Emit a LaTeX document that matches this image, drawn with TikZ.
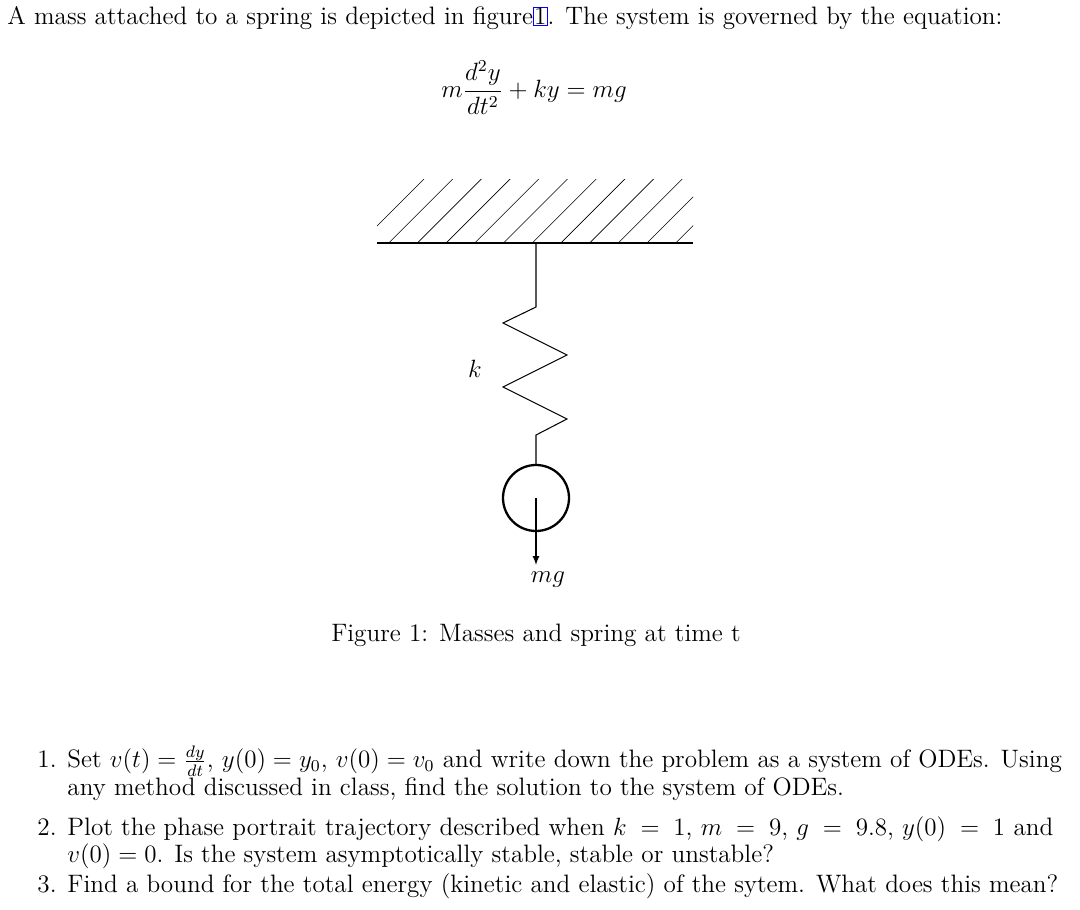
\documentclass[tikz,border=0pt]{standalone}
\usepackage{amsmath}
\begin{document}
\begin{tikzpicture}[x=0.48pt,y=-0.48pt,
  txt/.style={anchor=base west,inner sep=0pt,font=\fontsize{12.1}{14}\selectfont},
  lbl/.style={inner sep=0pt,font=\fontsize{12.1}{14}\selectfont}]
\useasboundingbox (0,0) rectangle (1080,910);
\node[txt] (l1) at (7,25) {A mass attached to a spring is depicted in figure\tikz[baseline=(b.base)]\node[draw=blue,inner sep=0.3pt,line width=0.4pt] (b) {1};. The system is governed by the equation:};
\node[lbl] (eq) at (534,88) {$\displaystyle m\frac{d^2y}{dt^2}+ky=mg$};
% ceiling
\begin{scope}
\clip (377,180) rectangle (693,243);
\foreach \i in {0,...,14} {
  \draw[line width=0.3pt] ({360+28.7*\i},243) -- ++(80,-80);
}
\end{scope}
\coordinate (cl) at (377,243);
\coordinate (cr) at (693,243);
\draw[line width=1.3pt] (cl) -- (cr);
\coordinate (s0) at (536,243);
\coordinate (s1) at (536,307);
\coordinate (s6) at (536,435);
\node[circle,draw,line width=1.1pt,minimum size=66*0.48pt,inner sep=0pt] (m) at (536,498) {};
\draw[line width=0.5pt] (s0) -- (s1) -- (503,323) -- (567,355) -- (503,387) -- (567,419) -- (s6) -- (m.north);
\coordinate (a) at (536,565);
\draw[-latex,line width=0.5pt] (m.center) -- (a);
\node[lbl] (k) at (475,369) {$k$};
\node[lbl] (mg) at (548,580) {$mg$};
\node[txt,anchor=base] (cap) at (536,642) {Figure 1: Masses and spring at time t};
\node[txt] (n1) at (37,768) {1.};
\node[txt] (t1a) at (67,768) {Set $v(t)=\frac{dy}{dt}$, $y(0)=y_0$, $v(0)=v_0$ and write down the problem as a system of ODEs. Using};
\node[txt] (t1b) at (67,795) {any method discussed in class, find the solution to the system of ODEs.};
\node[txt] (n2) at (37,836) {2.};
\node[txt] (t2a) at (67,836) {Plot the phase portrait trajectory described when $k\;=\;1$, $m\;=\;9$, $g\;=\;9.8$, $y(0)\;=\;1$ and};
\node[txt] (t2b) at (67,862) {$v(0)=0$. Is the system asymptotically stable, stable or unstable?};
\node[txt] (n3) at (37,892) {3.};
\node[txt] (t3) at (67,892) {Find a bound for the total energy (kinetic and elastic) of the sytem. What does this mean?};
\end{tikzpicture}
\end{document}
